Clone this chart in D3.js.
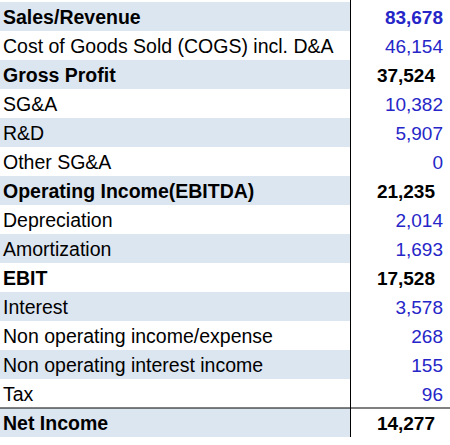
<!DOCTYPE html><html><head><meta charset="utf-8"><script src="https://cdn.jsdelivr.net/npm/d3@7"></script>
<style>body{margin:0;background:#fff}</style></head><body><svg id="c" width="450" height="445"></svg>
<script>
const labels=["Sales/Revenue","Cost of Goods Sold (COGS) incl. D&A","Gross Profit","SG&A","R&D","Other SG&A","Operating Income(EBITDA)","Depreciation","Amortization","EBIT","Interest","Non operating income/expense","Non operating interest income","Tax","Net Income"];
const values=[83678,46154,37524,10382,5907,0,21235,2014,1693,17528,3578,268,155,96,14277];
const bold=[1,0,1,0,0,0,1,0,0,1,0,0,0,0,1];
const svg=d3.select("#c");
const y=d3.scaleBand().domain(d3.range(labels.length)).range([2,437]);
const fmt=d3.format(",");
const g=svg.selectAll("g.r").data(labels).join("g");
g.append("rect").attr("x",0).attr("width",350).attr("y",(d,i)=>y(i)).attr("height",y.bandwidth())
 .attr("fill",(d,i)=>i%2==0?"#dce6f1":"#fff");
g.append("text").attr("x",3).attr("y",(d,i)=>y(i)+y.bandwidth()/2+7).text(d=>d)
 .attr("font-family","Liberation Sans, Arial").attr("font-size",19.5).attr("font-weight",(d,i)=>bold[i]?"bold":"normal").attr("fill","#000");
g.append("text").attr("x",(d,i)=>bold[i]&&i>0?435:443).attr("y",(d,i)=>y(i)+y.bandwidth()/2+7).attr("text-anchor","end")
 .text((d,i)=>fmt(values[i])).attr("font-family","Liberation Sans, Arial").attr("font-size",19)
 .attr("font-weight",(d,i)=>bold[i]?"bold":"normal").attr("fill",(d,i)=>bold[i]&&i>0?"#000":"#2626c8");
svg.append("line").attr("x1",350.5).attr("x2",350.5).attr("y1",0).attr("y2",437).attr("stroke","#000");
svg.append("line").attr("x1",0).attr("x2",450).attr("y1",y(14)).attr("y2",y(14)).attr("stroke","#000");
</script></body></html>
